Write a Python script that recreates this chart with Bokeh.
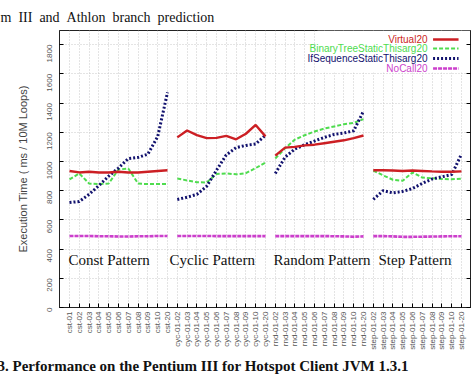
import math
import numpy as np
from bokeh.plotting import figure
from bokeh.models import FixedTicker, Label, LinearAxis, Range1d, Title
from bokeh.embed import file_html
from bokeh.resources import INLINE

# ---------------- data ----------------
cst_labels = ["cst-01", "cst-02", "cst-03", "cst-04", "cst-05", "cst-06", "cst-07",
              "cst-08", "cst-09", "cst-10", "cst-20"]
cyc_labels = ["cyc-01-02", "cyc-01-03", "cyc-01-04", "cyc-01-05", "cyc-01-06",
              "cyc-01-07", "cyc-01-08", "cyc-01-09", "cyc-01-10", "cyc-01-20"]
rnd_labels = ["rnd-01-02", "rnd-01-03", "rnd-01-04", "rnd-01-05", "rnd-01-06",
              "rnd-01-07", "rnd-01-08", "rnd-01-09", "rnd-01-10", "rnd-01-20"]
step_labels = ["step-01-02", "step-01-03", "step-01-04", "step-01-05", "step-01-06",
               "step-01-07", "step-01-08", "step-01-09", "step-01-10", "step-01-20"]

virtual_cst = [935, 925, 930, 925, 925, 930, 925, 925, 930, 935, 940]
virtual_cyc = [1165, 1212, 1180, 1160, 1162, 1175, 1152, 1190, 1250, 1172]
virtual_rnd = [1040, 1095, 1100, 1110, 1115, 1125, 1135, 1145, 1160, 1178]
virtual_step = [940, 940, 938, 935, 938, 935, 932, 930, 930, 932]

binary_cst = [877, 918, 849, 845, 849, 945, 952, 849, 845, 845, 845]
binary_cyc = [884, 870, 858, 856, 915, 918, 912, 920, 955, 993]
binary_rnd = [1020, 1090, 1150, 1180, 1205, 1225, 1240, 1255, 1265, 1290]
binary_step = [938, 905, 875, 868, 925, 890, 885, 880, 878, 882]

ifseq_cst = [719, 726, 775, 835, 900, 955, 1020, 1028, 1050, 1170, 1473]
ifseq_cyc = [740, 755, 775, 830, 940, 1045, 1095, 1110, 1120, 1180]
ifseq_rnd = [918, 1030, 1085, 1115, 1140, 1165, 1185, 1195, 1210, 1345]
ifseq_step = [740, 800, 785, 795, 815, 850, 880, 895, 910, 1050]

nocall_cst = [490, 490, 490, 488, 488, 486, 486, 488, 488, 490, 490]
nocall_cyc = [490, 490, 490, 490, 489, 489, 489, 489, 489, 489]
nocall_rnd = [489, 489, 489, 489, 489, 489, 488, 487, 485, 487]
nocall_step = [489, 489, 487, 484, 484, 485, 486, 487, 488, 488]

series_names = ["Virtual20", "BinaryTreeStaticThisarg20",
                "IfSequenceStaticThisarg20", "NoCall20"]
pattern_names = ["Const Pattern", "Cyclic Pattern", "Random Pattern", "Step Pattern"]
y_ticks = [0, 200, 400, 600, 800, 1000, 1200, 1400, 1600, 1800]

# ---------------- figure ----------------
groups = [cst_labels, cyc_labels, rnd_labels, step_labels]
all_labels = [l for g in groups for l in g]
n = len(all_labels)

p = figure(width=474, height=378, output_backend="svg", toolbar_location=None,
           x_range=Range1d(-1.02, n - 1 + 0.92), y_range=Range1d(0, 1897),
           min_border_left=59, min_border_right=4, min_border_top=30,
           min_border_bottom=71)
p.background_fill_color = "white"
p.border_fill_color = "white"
p.outline_line_color = "#222222"
p.outline_line_width = 1

# grids
p.xgrid.ticker = FixedTicker(ticks=list(range(n)))
p.ygrid.ticker = FixedTicker(ticks=y_ticks)
for g in (p.xgrid, p.ygrid):
    g.grid_line_color = "#c8c8c8"
    g.grid_line_dash = "1 2"
    g.grid_line_width = 1

# x axis
xa = p.xaxis[0]
xa.ticker = FixedTicker(ticks=list(range(n)))
xa.major_label_overrides = {i: lab for i, lab in enumerate(all_labels)}
xa.major_label_orientation = math.pi / 2
xa.major_label_text_font = "Liberation Sans"
xa.major_label_text_font_size = "8px"
xa.major_label_text_color = "#555555"
xa.major_tick_in = 4
xa.major_tick_out = 0
xa.minor_tick_line_color = None
xa.axis_line_color = "#222222"
xa.major_label_standoff = 4

# y axis
ya = p.yaxis[0]
ya.ticker = FixedTicker(ticks=y_ticks)
ya.major_label_orientation = math.pi / 2
ya.major_label_text_font = "Liberation Sans"
ya.major_label_text_font_size = "8px"
ya.major_label_text_color = "#555555"
ya.major_tick_in = 4
ya.major_tick_out = 0
ya.minor_tick_line_color = None
ya.axis_line_color = "#222222"
ya.axis_label = "Execution Time ( ms / 10M Loops)"
ya.axis_label_text_font = "Liberation Sans"
ya.axis_label_text_font_size = "11px"
ya.axis_label_text_font_style = "normal"
ya.axis_label_text_color = "#444444"
ya.axis_label_standoff = 13
ya.major_label_standoff = 10

# right-hand inward ticks (no labels)
ra = LinearAxis(ticker=FixedTicker(ticks=y_ticks),
                major_label_overrides={t: "" for t in y_ticks},
                major_label_standoff=0, major_tick_in=4, major_tick_out=0,
                minor_tick_line_color=None, axis_line_color="#222222")
p.add_layout(ra, "right")

# legend background box (hides grid)
p.quad(left=[25.3], right=[40.9], bottom=[1610], top=[1897],
       fill_color="white", line_color=None)

colors = ["#cc1f24", "#4fdc4f", "#12126e", "#cc3fcc"]
dashes = ["solid", "4 2", "2 2", "4 1"]
widths = [2.4, 2.0, 3.0, 2.6]
data = [
    [virtual_cst, virtual_cyc, virtual_rnd, virtual_step],
    [binary_cst, binary_cyc, binary_rnd, binary_step],
    [ifseq_cst, ifseq_cyc, ifseq_rnd, ifseq_step],
    [nocall_cst, nocall_cyc, nocall_rnd, nocall_step],
]

for s in [3, 1, 2, 0]:
    start = 0
    for gi, g in enumerate(groups):
        xs = list(range(start, start + len(g)))
        p.line(xs, data[s][gi], line_color=colors[s], line_dash=dashes[s],
               line_width=widths[s])
        start += len(g)

# legend (text right-aligned, line sample on the right)
leg_y_screen = [268, 259, 249, 239]
for s in range(4):
    p.add_layout(Label(x=368, y=leg_y_screen[s], x_units="screen", y_units="screen",
                       text=series_names[s], text_align="right", text_baseline="middle",
                       text_font="Liberation Sans", text_font_size="10px",
                       text_color=colors[s]))
    yv = leg_y_screen[s] * 1897 / 277
    p.line([37.1, 39.7], [yv, yv], line_color=colors[s], line_dash=dashes[s],
           line_width=widths[s])

# pattern labels
pat_x = [9, 110, 214, 319]
for k in range(4):
    p.add_layout(Label(x=pat_x[k], y=48, x_units="screen", y_units="screen",
                       text=pattern_names[k], text_align="left", text_baseline="middle",
                       text_font="Liberation Serif", text_font_size="15px",
                       text_color="#111111"))

# surrounding page text (cropped paper figure)
sp = "\u2002"
top_text = Title(text=sp.join(["m", "III", "and", "Athlon", "branch", "prediction"]),
                 align="left", offset=-59, standoff=12, text_font="Liberation Serif",
                 text_font_size="14px", text_font_style="normal", text_color="#111111")
p.add_layout(top_text, "above")
caption = Title(text="3. Performance on the Pentium III for Hotspot Client JVM 1.3.1",
                align="left", offset=-62, standoff=7, text_font="Liberation Serif",
                text_font_size="15px", text_font_style="bold", text_color="#111111")
p.add_layout(caption, "below")

open("out.html", "w").write(file_html(p, INLINE))
